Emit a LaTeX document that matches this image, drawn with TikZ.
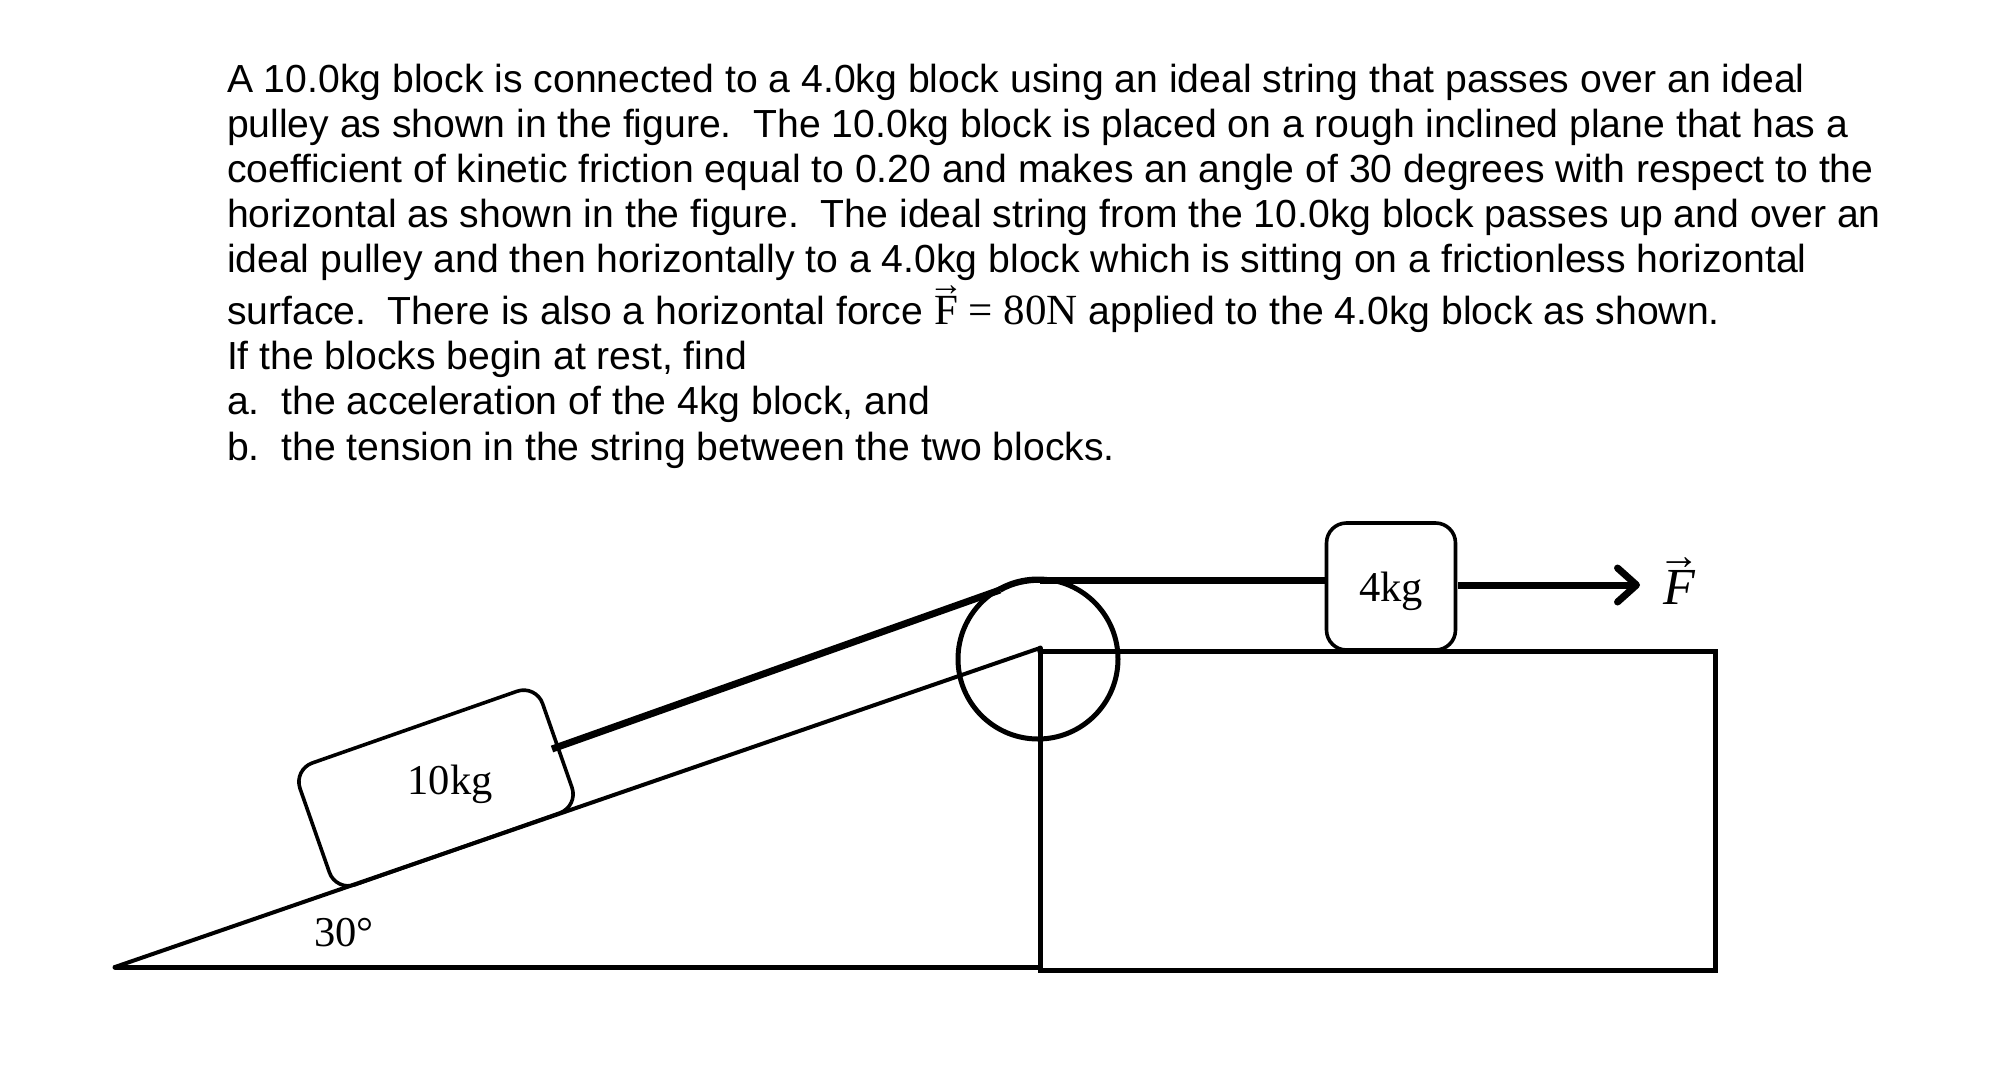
\documentclass[tikz,border=0pt]{standalone}
\usepackage{fontspec}
\usepackage{graphicx}
\setmainfont{Liberation Sans}
\newfontfamily\serifface{Liberation Serif}
\usetikzlibrary{arrows.meta}
\newcommand\arrowed[1]{\setbox0\hbox{#1}\rlap{\makebox[\wd0]{\raisebox{.66em}{\scalebox{.8}{→}}}}\box0}
\tikzset{
  x=1pt,y=-1pt,
  txt/.style={anchor=base west,inner sep=0pt,outer sep=0pt,font=\fontsize{39.15}{45}\selectfont},
  lab/.style={inner sep=0pt,font=\serifface\fontsize{42.5}{48}\selectfont},
  blockbox/.style={draw=black,line width=3.6pt,rounded corners=20pt,inner sep=0pt,outer sep=0pt},
  body/.style={draw=black,line width=5pt,line cap=round,line join=miter},
  slope/.style={draw=black,line width=5pt,line cap=round,line join=round},
  string/.style={draw=black,line width=7pt},
  wheel/.style={draw=black,line width=5pt,circle,inner sep=0pt,minimum size=160pt},
}
\begin{document}
\begin{tikzpicture}
\useasboundingbox (0,0) rectangle (1998,1084);
\node[txt] (l1) at (227,92) {A 10.0kg block is connected to a 4.0kg block using an ideal string that passes over an ideal};
\node[txt] (l2) at (227,137) {pulley as shown in the figure.\ \ The 10.0kg block is placed on a rough inclined plane that has a};
\node[txt] (l3) at (227,182) {coefficient of kinetic friction equal to 0.20 and makes an angle of 30 degrees with respect to the};
\node[txt] (l4) at (227,227) {horizontal as shown in the figure.\ \ The ideal string from the 10.0kg block passes up and over an};
\node[txt] (l5) at (227,272) {ideal pulley and then horizontally to a 4.0kg block which is sitting on a frictionless horizontal};
\node[txt] (l6) at (227,324) {surface.\ \ There is also a horizontal force {\serifface\fontsize{43}{45}\selectfont\arrowed{F}\hspace{.25em}=\hspace{.25em}80N} applied to the 4.0kg block as shown.};
\node[txt] (l7) at (227,369.5) {If the blocks begin at rest, find};
\node[txt] (l8) at (227,414) {a.\ \ the acceleration of the 4kg block, and};
\node[txt] (l9) at (227,460) {b.\ \ the tension in the string between the two blocks.};

\coordinate (apex) at (115,967);
\coordinate (top) at (1040,648);
\coordinate (foot) at (1040,970);
\coordinate (boxtr) at (1715,651);
\coordinate (boxbr) at (1715,970);
\draw[slope] (foot |- apex) -- (apex);
\draw[draw=black,line width=4pt,line cap=round] (apex) -- (top);
\draw[body] (top) -- (foot) -- (boxbr) -- (boxtr) -- (top |- boxtr);

\node[wheel] (pulley) at (1038,659) {};
\node[blockbox,minimum width=257pt,minimum height=129pt,rotate=19.3] (b10) at (436,788) {};
\node[blockbox,minimum width=129pt,minimum height=127pt] (b4) at (1391,586.5) {};
\draw[body] (top |- boxtr) -- (boxtr);

\coordinate (s1) at (552,749);
\coordinate (s2) at (1000,590);
\coordinate (s3) at (1040,580);
\draw[string] (s1) -- (s2);
\draw[draw=black,line width=5.5pt] (s2) .. controls (1012,583) and (1026,580) .. (s3);
\draw[string] (s3) -- (s3 -| b4.west);

\coordinate (ftip) at (1640,585);
\draw[string,-{Straight Barb[length=19pt,width=34pt,line width=7pt,round]}] (1458,585) -- (ftip);

\node[lab] (t10) at (450,784) {10kg};
\node[lab] (t4) at (1391,591) {4kg};
\node[lab] (t30) at (344,933) {30°};
\node[lab,font=\serifface\fontsize{52}{52}\selectfont] (tF) at (1679,581) {\arrowed{\itshape F}};
\end{tikzpicture}
\end{document}
